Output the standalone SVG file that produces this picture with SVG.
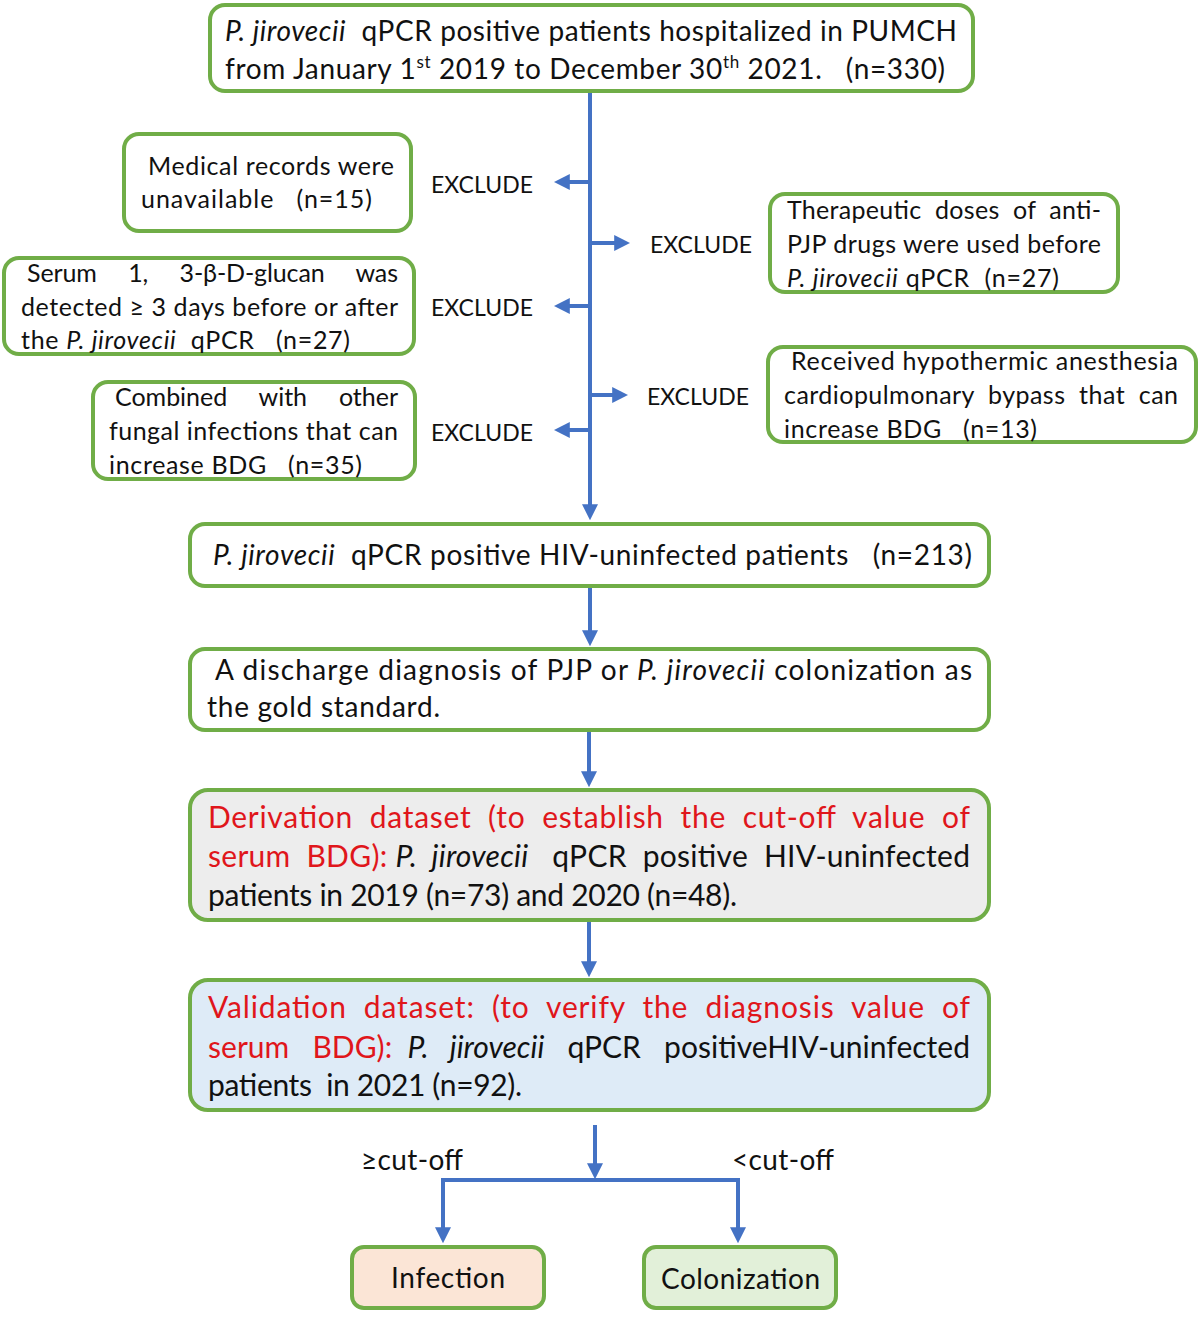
<svg xmlns="http://www.w3.org/2000/svg" width="1200" height="1317" viewBox="0 0 1200 1317">
<style>
text{font-family:Lato,"Liberation Sans",sans-serif;fill:#111;white-space:pre}
.b{fill:#fff;stroke:#70AD47;stroke-width:4}
.m{font-size:28px}
.s{font-size:25px}
.x{font-size:23px}
.l{font-size:30px}
.i{font-style:italic}
.r{fill:#E0161B}
.c{stroke:#4472C4;stroke-width:4;fill:none}
</style>
<defs>
<marker id="ah" viewBox="0 0 10 10" refX="3" refY="5" markerWidth="16" markerHeight="16" markerUnits="userSpaceOnUse" orient="auto">
<path d="M0,0 L10,5 L0,10 z" fill="#4472C4"/>
</marker>
</defs>
<rect width="1200" height="1317" fill="#fff"/>
<g id="connectors">
<path class="c" d="M590,93 V509" marker-end="url(#ah)"/>
<path class="c" d="M590,182 H565" marker-end="url(#ah)"/>
<path class="c" d="M590,306 H565" marker-end="url(#ah)"/>
<path class="c" d="M590,430 H565" marker-end="url(#ah)"/>
<path class="c" d="M590,243 H619" marker-end="url(#ah)"/>
<path class="c" d="M590,395 H617" marker-end="url(#ah)"/>
<path class="c" d="M590,588 V635" marker-end="url(#ah)"/>
<path class="c" d="M589,732 V776" marker-end="url(#ah)"/>
<path class="c" d="M589,922 V966" marker-end="url(#ah)"/>
<path class="c" d="M595,1125 V1168" marker-end="url(#ah)"/>
<path class="c" d="M441,1180 H740"/>
<path class="c" d="M443,1180 V1232" marker-end="url(#ah)"/>
<path class="c" d="M738,1180 V1232" marker-end="url(#ah)"/>
</g>
<g id="n-top">
<rect class="b" x="210" y="5" width="763" height="86" rx="15"/>
<text class="m" x="225" y="41" textLength="732" lengthAdjust="spacing"><tspan class="i">P. jirovecii</tspan>  qPCR positive patients hospitalized in PUMCH</text>
<text class="m" x="225" y="79" textLength="720" lengthAdjust="spacing">from January 1<tspan font-size="17" dy="-11">st</tspan><tspan dy="11"> 2019 to December 30</tspan><tspan font-size="17" dy="-11">th</tspan><tspan dy="11"> 2021.   (n=330)</tspan></text>
</g>
<g id="n-medical">
<rect class="b" x="124" y="134" width="287" height="97" rx="15"/>
<text class="s" x="148" y="175" textLength="246" lengthAdjust="spacing">Medical records were</text>
<text class="s" x="141" y="208" textLength="231" lengthAdjust="spacing">unavailable   (n=15)</text>
</g>
<g id="n-serum">
<rect class="b" x="4" y="258" width="410" height="96" rx="15"/>
<text class="s" x="27" y="282" textLength="371" lengthAdjust="spacing">Serum     1,     3-β-D-glucan     was</text>
<text class="s" x="21" y="316" textLength="377" lengthAdjust="spacing">detected ≥ 3 days before or after</text>
<text class="s" x="21" y="349" textLength="329" lengthAdjust="spacing">the <tspan class="i">P. jirovecii</tspan>  qPCR   (n=27)</text>
</g>
<g id="n-combined">
<rect class="b" x="93" y="382" width="322" height="97" rx="15"/>
<text class="s" x="115" y="406" textLength="283" lengthAdjust="spacing">Combined     with     other</text>
<text class="s" x="109" y="440" textLength="289" lengthAdjust="spacing">fungal infections that can</text>
<text class="s" x="109" y="474" textLength="253" lengthAdjust="spacing">increase BDG   (n=35)</text>
</g>
<g id="n-therapeutic">
<rect class="b" x="770" y="194" width="348" height="98" rx="15"/>
<text class="s" x="787" y="219" textLength="314" lengthAdjust="spacing">Therapeutic  doses  of  anti-</text>
<text class="s" x="787" y="253" textLength="314" lengthAdjust="spacing">PJP drugs were used before</text>
<text class="s" x="787" y="287" textLength="272" lengthAdjust="spacing"><tspan class="i">P. jirovecii</tspan> qPCR  (n=27)</text>
</g>
<g id="n-received">
<rect class="b" x="768" y="347" width="428" height="95" rx="15"/>
<text class="s" x="791" y="370" textLength="387" lengthAdjust="spacing">Received hypothermic anesthesia</text>
<text class="s" x="784" y="404" textLength="394" lengthAdjust="spacing">cardiopulmonary  bypass  that  can</text>
<text class="s" x="784" y="438" textLength="253" lengthAdjust="spacing">increase BDG   (n=13)</text>
</g>
<g id="excl-labels">
<text class="x" x="431" y="193" textLength="102" lengthAdjust="spacing">EXCLUDE</text>
<text class="x" x="431" y="316" textLength="102" lengthAdjust="spacing">EXCLUDE</text>
<text class="x" x="431" y="441" textLength="102" lengthAdjust="spacing">EXCLUDE</text>
<text class="x" x="650" y="253" textLength="102" lengthAdjust="spacing">EXCLUDE</text>
<text class="x" x="647" y="405" textLength="102" lengthAdjust="spacing">EXCLUDE</text>
</g>
<g id="n-213">
<rect class="b" x="190" y="524" width="799" height="62" rx="15"/>
<text class="m" x="213" y="565" textLength="759" lengthAdjust="spacing"><tspan class="i">P. jirovecii</tspan>  qPCR positive HIV-uninfected patients   (n=213)</text>
</g>
<g id="n-discharge">
<rect class="b" x="190" y="649" width="799" height="81" rx="15"/>
<text class="m" x="215" y="680" textLength="757" lengthAdjust="spacing">A discharge diagnosis of PJP or <tspan class="i">P. jirovecii</tspan> colonization as</text>
<text class="m" x="207" y="717" textLength="233" lengthAdjust="spacing">the gold standard.</text>
</g>
<g id="n-derivation">
<rect class="b" x="190" y="790" width="799" height="130" rx="18" style="fill:#EDEDED"/>
<text class="l" x="208" y="828" textLength="762" lengthAdjust="spacing"><tspan class="r">Derivation  dataset  (to  establish  the  cut-off  value  of</tspan></text>
<text class="l" x="208" y="867" textLength="762" lengthAdjust="spacing"><tspan class="r">serum  BDG): </tspan><tspan class="i">P.  jirovecii</tspan>   qPCR  positive  HIV-uninfected</text>
<text class="l" x="208" y="906" textLength="529" lengthAdjust="spacing">patients in 2019 (n=73) and 2020 (n=48).</text>
</g>
<g id="n-validation">
<rect class="b" x="190" y="980" width="799" height="130" rx="18" style="fill:#DEEBF7"/>
<text class="l" x="208" y="1018" textLength="762" lengthAdjust="spacing"><tspan class="r">Validation  dataset:  (to  verify  the  diagnosis  value  of</tspan></text>
<text class="l" x="208" y="1058" textLength="762" lengthAdjust="spacing"><tspan class="r">serum   BDG):  </tspan><tspan class="i">P.   jirovecii</tspan>   qPCR   positiveHIV-uninfected</text>
<text class="l" x="208" y="1096" textLength="314" lengthAdjust="spacing">patients  in 2021 (n=92).</text>
</g>
<g id="branch-labels">
<text class="m" x="361" y="1170" textLength="102" lengthAdjust="spacing">≥cut-off</text>
<text class="m" x="732" y="1170" textLength="102" lengthAdjust="spacing">&lt;cut-off</text>
</g>
<g id="n-infection">
<rect class="b" x="352" y="1247" width="192" height="61" rx="12" style="fill:#FBE5D6"/>
<text class="m" x="391" y="1288" textLength="114" lengthAdjust="spacing">Infection</text>
</g>
<g id="n-colonization">
<rect class="b" x="644" y="1247" width="192" height="61" rx="12" style="fill:#E2F0D9"/>
<text class="m" x="661" y="1289" textLength="159" lengthAdjust="spacing">Colonization</text>
</g>
</svg>
